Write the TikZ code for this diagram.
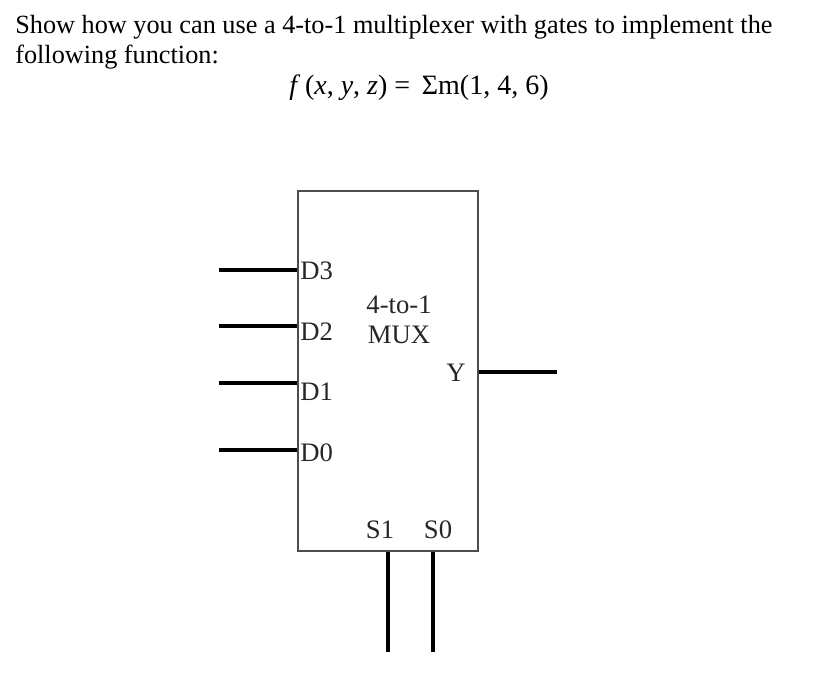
\documentclass[tikz,border=0pt]{standalone}
\usepackage{fontspec}
\setmainfont{Liberation Serif}
\usetikzlibrary{positioning}
\tikzset{
    lbl/.style={inner sep=0pt, font=\fontsize{20}{24}\selectfont, text=black!85},
    para/.style={inner sep=0pt, anchor=base west, font=\fontsize{19.7}{24}\selectfont},
    wire/.style={line width=2.7pt},
    muxbox/.style={draw=black!70, line width=1pt, minimum width=135pt, minimum height=270pt, inner sep=0pt}
}
\begin{document}
\begin{tikzpicture}[x=0.75pt, y=-0.75pt]
    \useasboundingbox (0,0) rectangle (827,681);

    % Question text
    \node[para] (line1) at (15,34) {Show how you can use a 4-to-1 multiplexer with gates to implement the};
    \node[para] (line2) at (15,64) {following function:};
    \node[para, anchor=base, font=\fontsize{21}{24}\selectfont] (func) at (419,95) {\textit{f}\,(\textit{x}, \textit{y}, \textit{z}) =\, Σm(1, 4, 6)};

    % Multiplexer body
    \node[muxbox] (mux) at (388,371) {};
    \node[lbl] (title) at (399,305) {4-to-1};
    \node[lbl] (name) at (399,335) {MUX};

    % Input pins
    \node[lbl, anchor=west] (d3) at (300,271) {D3};
    \node[lbl, anchor=west] (d2) at (300,332) {D2};
    \node[lbl, anchor=west] (d1) at (300,392) {D1};
    \node[lbl, anchor=west] (d0) at (300,453) {D0};

    % Output and select pins
    \node[lbl] (y) at (456,373) {Y};
    \node[lbl] (s1) at (380,530) {S1};
    \node[lbl] (s0) at (438,530) {S0};

    % Free wire ends
    \coordinate (ind3) at (219,270);
    \coordinate (ind2) at (219,326);
    \coordinate (ind1) at (219,383);
    \coordinate (ind0) at (219,450);
    \coordinate (outy) at (557,372);
    \coordinate (ins1) at (388,652);
    \coordinate (ins0) at (433,652);

    \draw[wire] (ind3) -- (mux.west |- ind3);
    \draw[wire] (ind2) -- (mux.west |- ind2);
    \draw[wire] (ind1) -- (mux.west |- ind1);
    \draw[wire] (ind0) -- (mux.west |- ind0);
    \draw[wire] (mux.east |- outy) -- (outy);
    \draw[wire] (ins1) -- (mux.south -| ins1);
    \draw[wire] (ins0) -- (mux.south -| ins0);

\end{tikzpicture}
\end{document}
